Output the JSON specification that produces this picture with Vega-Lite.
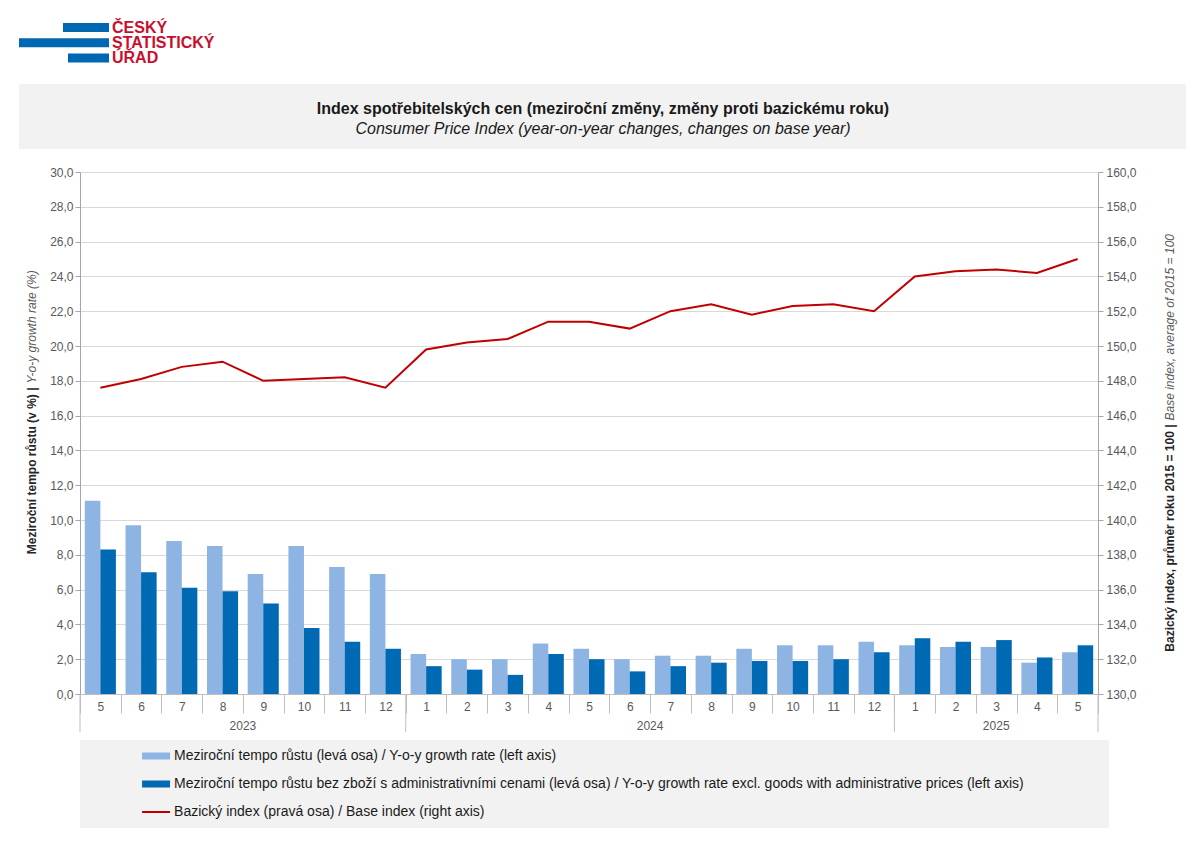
{
  "$schema": "https://vega.github.io/schema/vega-lite/v6.json",
  "background": "white",
  "padding": {"left": 18, "top": 19, "right": 5, "bottom": 5},
  "config": {"view": {"stroke": null}, "font": "Liberation Sans"},
  "spacing": 7,
  "vconcat": [
    {
      "width": 190,
      "height": 57,
      "data": {"values": [
        {"t": "ČESKÝ", "w": 4.6},
        {"t": "STATISTICKÝ", "w": 9},
        {"t": "ÚŘAD", "w": 4.1}
      ]},
      "encoding": {
        "y": {"field": "t", "type": "nominal", "scale": {"domain": ["ČESKÝ", "STATISTICKÝ", "ÚŘAD"], "paddingInner": 0.4, "paddingOuter": 0.57, "align": 0.17}, "axis": null}
      },
      "layer": [
        {
          "mark": {"type": "bar", "color": "#0068b3"},
          "encoding": {
            "x": {"field": "w", "type": "quantitative", "scale": {"domain": [-16.1, 2.9], "reverse": true, "nice": false, "zero": false}, "axis": null},
            "x2": {"datum": 0}
          }
        },
        {
          "mark": {"type": "text", "align": "left", "baseline": "middle", "dx": 3, "fontSize": 16, "fontWeight": "bold", "font": "Liberation Sans Narrow, Liberation Sans, sans-serif", "color": "#c8102e"},
          "encoding": {
            "x": {"datum": 0},
            "text": {"field": "t"}
          }
        }
      ]
    },
    {
      "width": 1046,
      "height": 65,
      "data": {"values": [{"a": 1}]},
      "mark": {"type": "rect", "color": "#f2f2f2"},
      "encoding": {
        "x": {"datum": -0.05832, "scale": {"domain": [0, 1], "nice": false, "zero": false}, "axis": null},
        "x2": {"datum": 1.05736},
        "y": {"datum": 0, "scale": {"domain": [0, 1], "nice": false}, "axis": null},
        "y2": {"datum": 1}
      },
      "title": {
        "text": "Index spotřebitelských cen (meziroční změny, změny proti bazickému roku)",
        "subtitle": "Consumer Price Index (year-on-year changes, changes on base year)",
        "anchor": "middle",
        "orient": "top",
        "offset": -53,
        "fontSize": 16,
        "fontWeight": "bold",
        "color": "#1a1a1a",
        "subtitleFontSize": 16,
        "subtitleFontStyle": "italic",
        "subtitleColor": "#1a1a1a",
        "subtitlePadding": 4
      }
    },
    {
      "width": 1018,
      "height": 522,
      "title": {"text": " ", "fontSize": 1, "offset": 9},
      "data": {"values": [
        {"m": "2023-05", "yoy": 11.1, "excl": 8.3, "base": 147.6},
        {"m": "2023-06", "yoy": 9.7, "excl": 7.0, "base": 148.1},
        {"m": "2023-07", "yoy": 8.8, "excl": 6.1, "base": 148.8},
        {"m": "2023-08", "yoy": 8.5, "excl": 5.9, "base": 149.1},
        {"m": "2023-09", "yoy": 6.9, "excl": 5.2, "base": 148.0},
        {"m": "2023-10", "yoy": 8.5, "excl": 3.8, "base": 148.1},
        {"m": "2023-11", "yoy": 7.3, "excl": 3.0, "base": 148.2},
        {"m": "2023-12", "yoy": 6.9, "excl": 2.6, "base": 147.6},
        {"m": "2024-01", "yoy": 2.3, "excl": 1.6, "base": 149.8},
        {"m": "2024-02", "yoy": 2.0, "excl": 1.4, "base": 150.2},
        {"m": "2024-03", "yoy": 2.0, "excl": 1.1, "base": 150.4},
        {"m": "2024-04", "yoy": 2.9, "excl": 2.3, "base": 151.4},
        {"m": "2024-05", "yoy": 2.6, "excl": 2.0, "base": 151.4},
        {"m": "2024-06", "yoy": 2.0, "excl": 1.3, "base": 151.0},
        {"m": "2024-07", "yoy": 2.2, "excl": 1.6, "base": 152.0},
        {"m": "2024-08", "yoy": 2.2, "excl": 1.8, "base": 152.4},
        {"m": "2024-09", "yoy": 2.6, "excl": 1.9, "base": 151.8},
        {"m": "2024-10", "yoy": 2.8, "excl": 1.9, "base": 152.3},
        {"m": "2024-11", "yoy": 2.8, "excl": 2.0, "base": 152.4},
        {"m": "2024-12", "yoy": 3.0, "excl": 2.4, "base": 152.0},
        {"m": "2025-01", "yoy": 2.8, "excl": 3.2, "base": 154.0},
        {"m": "2025-02", "yoy": 2.7, "excl": 3.0, "base": 154.3},
        {"m": "2025-03", "yoy": 2.7, "excl": 3.1, "base": 154.4},
        {"m": "2025-04", "yoy": 1.8, "excl": 2.1, "base": 154.2},
        {"m": "2025-05", "yoy": 2.4, "excl": 2.8, "base": 155.0}
      ]},
      "layer": [
        {
          "transform": [{"fold": ["yoy", "excl"], "as": ["s", "v"]}],
          "mark": {"type": "bar"},
          "encoding": {
            "x": {
              "field": "m", "type": "ordinal", "title": null,
              "scale": {"paddingInner": 0, "paddingOuter": 0},
              "axis": {
                "title": null, "labelAngle": 0,
                "labelExpr": "isString(datum.value) ? '' + toNumber(substring(datum.value, 5)) : ''",
                "tickBand": "extent", "tickSize": 19, "tickColor": "#bfbfbf",
                "domainColor": "#bfbfbf", "labelPadding": -12,
                "labelColor": "#595959", "labelFontSize": 12, "grid": false
              }
            },
            "xOffset": {"field": "s", "type": "nominal", "sort": ["yoy", "excl"], "scale": {"paddingOuter": 0.31, "paddingInner": 0}},
            "y": {
              "field": "v", "type": "quantitative",
              "scale": {"domain": [0, 30], "nice": false},
              "axis": {
                "orient": "left",
                "values": [0, 2, 4, 6, 8, 10, 12, 14, 16, 18, 20, 22, 24, 26, 28, 30],
                "labelExpr": "replace(format(datum.value, '.1f'), '.', ',')",
                "grid": true, "gridColor": "#d9d9d9",
                "tickSize": 5, "tickColor": "#a6a6a6", "domainColor": "#a6a6a6",
                "labelColor": "#595959", "labelFontSize": 12, "labelPadding": 2,
                "minExtent": 60,
                "title": "Meziroční tempo růstu (v %) |",
                "titleFontWeight": "bold", "titleFontSize": 12, "titleColor": "#262626",
                "titleAngle": 270, "titleAlign": "right", "titleBaseline": "middle",
                "titleX": -49, "titleY": 215
              }
            },
            "color": {"field": "s", "type": "nominal", "scale": {"domain": ["yoy", "excl", "base"], "range": ["#8eb4e3", "#0069b4", "#c00000"]}, "legend": null}
          }
        },
        {
          "data": {"values": [{"m": "2023-05"}, {"m": "2024-01"}, {"m": "2025-01"}]},
          "mark": {"type": "rule", "color": "#bfbfbf"},
          "encoding": {
            "x": {"field": "m", "type": "ordinal", "bandPosition": 0, "title": null},
            "y": {"datum": 0, "scale": {"domain": [0, 30], "nice": false}, "axis": null},
            "y2": {"datum": -2.2}
          }
        },
        {
          "data": {"values": [{"m": "2025-05"}]},
          "mark": {"type": "rule", "color": "#bfbfbf"},
          "encoding": {
            "x": {"field": "m", "type": "ordinal", "bandPosition": 1, "title": null},
            "y": {
              "datum": 130, "scale": {"domain": [130, 160], "nice": false, "zero": false},
              "axis": {
                "orient": "right", "labels": false, "ticks": false, "domain": false, "grid": false,
                "title": "Base index, average of 2015 = 100",
                "titleFontStyle": "italic", "titleFontWeight": "normal", "titleFontSize": 12, "titleColor": "#595959",
                "titleAngle": 270, "titleAlign": "left", "titleBaseline": "middle",
                "titleX": 71, "titleY": 248
              }
            },
            "y2": {"datum": 127.8}
          }
        },
        {
          "data": {"values": [{"m": "2023-08", "year": "2023"}, {"m": "2024-06", "year": "2024"}]},
          "mark": {"type": "text", "fontSize": 12, "color": "#595959", "baseline": "middle"},
          "encoding": {
            "x": {"field": "m", "type": "ordinal", "bandPosition": 1, "title": null},
            "y": {
              "datum": -1.84, "scale": {"domain": [0, 30], "nice": false},
              "axis": {
                "orient": "left", "labels": false, "ticks": false, "domain": false, "grid": false,
                "title": "Y-o-y growth rate (%)",
                "titleFontStyle": "italic", "titleFontWeight": "normal", "titleFontSize": 12, "titleColor": "#595959",
                "titleAngle": 270, "titleAlign": "left", "titleBaseline": "middle",
                "titleX": -49, "titleY": 211
              }
            },
            "text": {"field": "year"}
          }
        },
        {
          "data": {"values": [{"m": "2025-03", "year": "2025"}]},
          "mark": {"type": "text", "fontSize": 12, "color": "#595959", "baseline": "middle"},
          "encoding": {
            "x": {"field": "m", "type": "ordinal", "bandPosition": 0.5, "title": null},
            "y": {"datum": -1.84, "scale": {"domain": [0, 30], "nice": false}, "axis": null},
            "text": {"field": "year"}
          }
        },
        {
          "mark": {"type": "line", "color": "#c00000", "strokeWidth": 2},
          "encoding": {
            "x": {"field": "m", "type": "ordinal", "title": null},
            "y": {
              "field": "base", "type": "quantitative",
              "scale": {"domain": [130, 160], "nice": false, "zero": false},
              "axis": {
                "orient": "right",
                "values": [130, 132, 134, 136, 138, 140, 142, 144, 146, 148, 150, 152, 154, 156, 158, 160],
                "labelExpr": "replace(format(datum.value, '.1f'), '.', ',')",
                "grid": false,
                "tickSize": 5, "tickColor": "#a6a6a6", "domainColor": "#a6a6a6",
                "labelColor": "#595959", "labelFontSize": 12, "labelPadding": 3,
                "title": "Bazický index, průměr roku 2015 = 100 |",
                "titleFontWeight": "bold", "titleFontSize": 12, "titleColor": "#262626",
                "titleAngle": 270, "titleAlign": "right", "titleBaseline": "middle",
                "titleX": 71, "titleY": 252
              }
            }
          }
        }
      ],
      "resolve": {"scale": {"y": "independent"}}
    },
    {
      "width": 1029,
      "height": 88,
      "view": {"fill": "#f2f2f2", "stroke": null},
      "data": {"values": [
        {"s": "yoy", "label": "Meziroční tempo růstu (levá osa) / Y-o-y growth rate (left axis)"},
        {"s": "excl", "label": "Meziroční tempo růstu bez zboží s administrativními cenami (levá osa) / Y-o-y growth rate excl. goods with administrative prices (left axis)"},
        {"s": "base", "label": "Bazický index (pravá osa) / Base index (right axis)"}
      ]},
      "encoding": {
        "y": {
          "field": "s", "type": "nominal",
          "scale": {"type": "point", "domain": ["yoy", "excl", "base"], "padding": 0.57},
          "axis": null
        }
      },
      "layer": [
        {
          "transform": [{"filter": "datum.s != 'base'"}],
          "mark": {"type": "rule", "strokeWidth": 7, "strokeCap": "butt"},
          "encoding": {
            "x": {"datum": 0.0603, "scale": {"domain": [0, 1], "nice": false}, "axis": null},
            "x2": {"datum": 0.0875},
            "color": {"field": "s", "type": "nominal", "scale": {"domain": ["yoy", "excl", "base"], "range": ["#8eb4e3", "#0069b4", "#c00000"]}, "legend": null}
          }
        },
        {
          "transform": [{"filter": "datum.s == 'base'"}],
          "mark": {"type": "rule", "strokeWidth": 2, "strokeCap": "butt"},
          "encoding": {
            "x": {"datum": 0.0603, "scale": {"domain": [0, 1], "nice": false}, "axis": null},
            "x2": {"datum": 0.0875},
            "color": {"field": "s", "type": "nominal", "scale": {"domain": ["yoy", "excl", "base"], "range": ["#8eb4e3", "#0069b4", "#c00000"]}, "legend": null}
          }
        },
        {
          "mark": {"type": "text", "align": "left", "baseline": "middle", "fontSize": 14, "color": "#1a1a1a"},
          "encoding": {
            "x": {"datum": 0.0914, "scale": {"domain": [0, 1], "nice": false}, "axis": null},
            "text": {"field": "label"}
          }
        }
      ]
    }
  ]
}
